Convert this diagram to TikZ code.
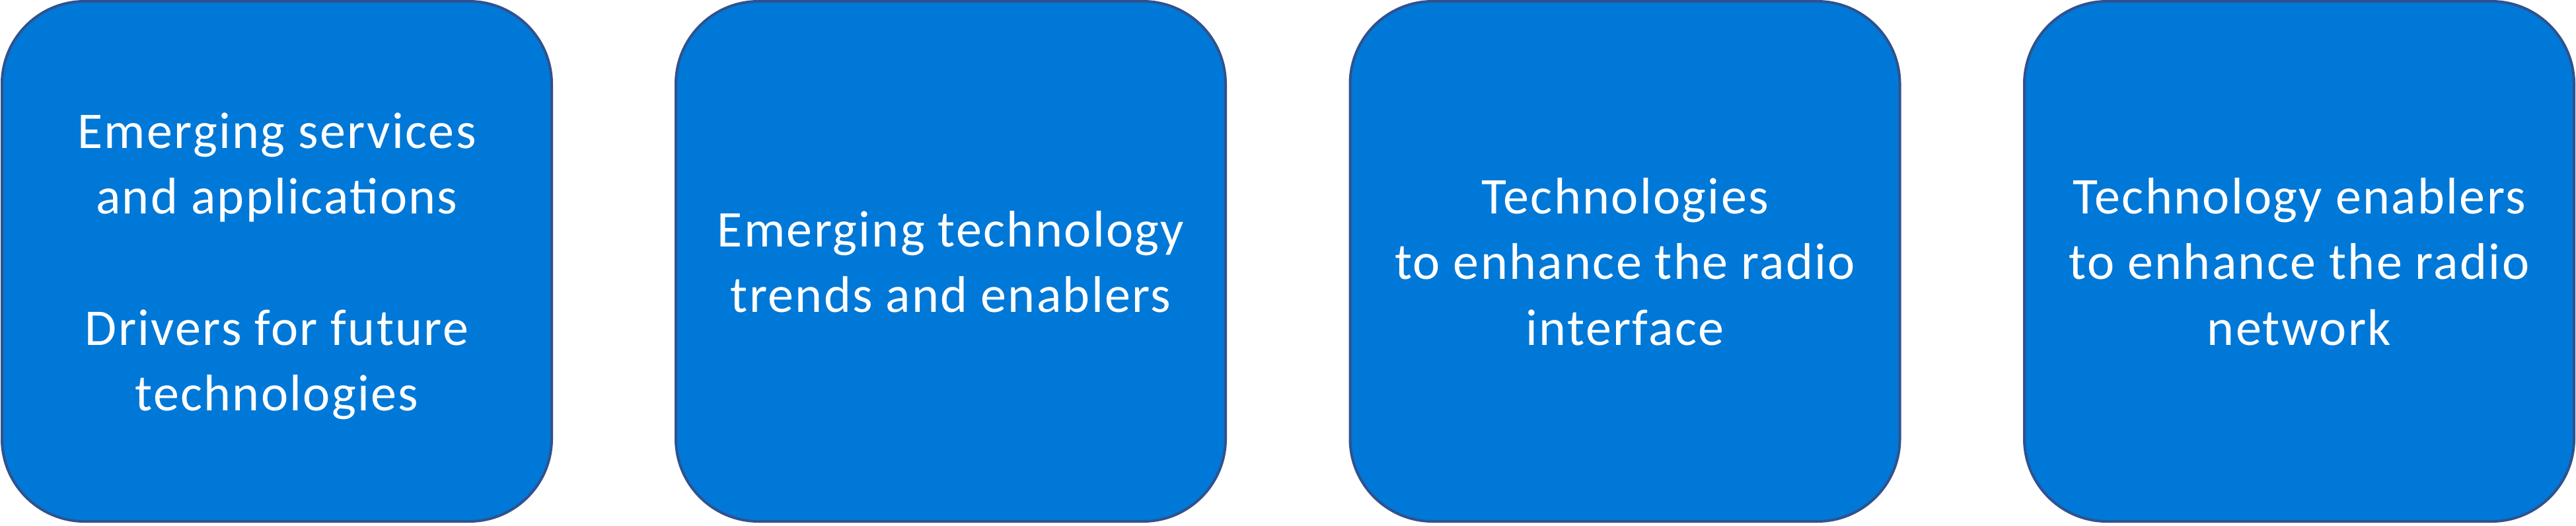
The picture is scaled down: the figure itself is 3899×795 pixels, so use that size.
\documentclass[tikz,border=0pt]{standalone}
\usepackage{fontspec}
\setmainfont{Carlito}[LetterSpace=3.0]
\definecolor{boxfill}{RGB}{0,120,215}
\definecolor{boxline}{RGB}{47,82,143}
\begin{document}
\begin{tikzpicture}[x=0.25pt,y=0.25pt,
  panel/.style={draw=boxline, fill=boxfill, line width=1pt, rounded corners=31.25pt,
    minimum width=208pt, minimum height=196.75pt, inner sep=0pt},
  paneltext/.style={text=white, align=center, inner sep=0pt, yshift=-1.9pt,
    font=\fontsize{19.5pt}{24.8pt}\selectfont}]
\useasboundingbox (0,0) rectangle (3899,795);
\node[panel] (b1) at (419,399.5) {};
\node[panel] (b2) at (1439,399.5) {};
\node[panel] (b3) at (2459.5,399.5) {};
\node[panel] (b4) at (3480,399.5) {};
\node[paneltext] (t1) at (b1.center) {\strut Emerging services\\\strut and applications\\\strut\\\strut Drivers for future\\\strut technologies};
\node[paneltext] (t2) at (b2.center) {\strut Emerging technology\\\strut trends and enablers};
\node[paneltext] (t3) at (b3.center) {\strut Technologies\\\strut to enhance the radio\\\strut interface};
\node[paneltext] (t4) at (b4.center) {\strut Technology enablers\\\strut to enhance the radio\\\strut network};
\end{tikzpicture}
\end{document}
